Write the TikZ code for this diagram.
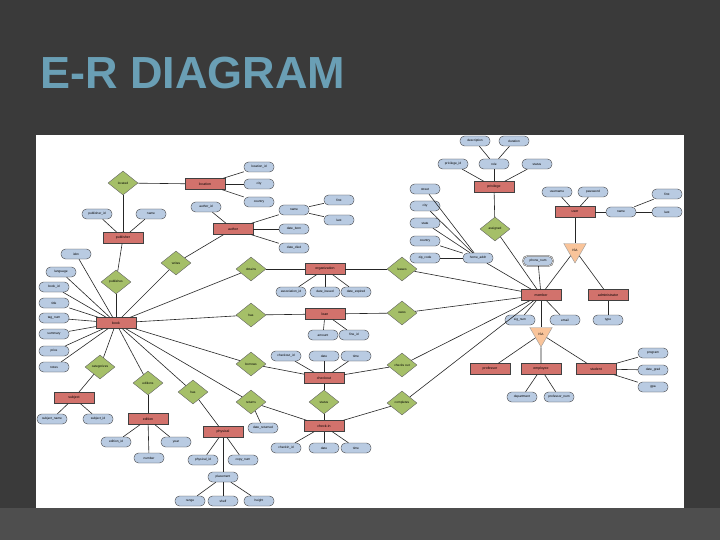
\documentclass[tikz,border=0pt]{standalone}
\usepackage{fontspec}
\setmainfont{Liberation Sans}
\usetikzlibrary{shapes.geometric}
\definecolor{bg}{HTML}{3A3A3A}
\definecolor{entf}{HTML}{D2726C}
\definecolor{attf}{HTML}{B9CBE2}
\definecolor{relf}{HTML}{A5BF68}
\definecolor{isaf}{HTML}{F9C49A}
\definecolor{ttl}{HTML}{6A9FB5}
\tikzset{
 ent/.style={draw=black!75,fill=entf,minimum width=40pt,minimum height=11pt,inner sep=0pt,font=\fontsize{3.5}{4}\selectfont},
 att/.style={draw=black!75,fill=attf,rounded corners=4.5pt,minimum width=30pt,minimum height=10pt,inner sep=0pt,font=\fontsize{3.2}{4}\selectfont},
 rel/.style={draw=black!60,fill=relf,diamond,aspect=1.25,minimum width=30pt,minimum height=24pt,inner sep=0pt,font=\fontsize{3.2}{4}\selectfont},
 isa/.style={draw=black!40,fill=isaf,regular polygon,regular polygon sides=3,shape border rotate=180,minimum size=26pt,inner sep=0pt,font=\fontsize{3.2}{4}\selectfont},
 ln/.style={draw=black!85,line width=0.6pt},
}
\begin{document}
\begin{tikzpicture}[x=1pt,y=-1pt]
\fill[bg] (0,0) rectangle (720,540);
\fill[bg!90!white] (0,508) rectangle (720,540);
\fill[white] (36,135) rectangle (684,508);
\node[anchor=west,text=ttl,inner sep=0pt,font=\fontsize{45}{48}\bfseries\selectfont] (title) at (40,73) {E-R DIAGRAM};
% entities
\node[ent] (location) at (205,184) {location};
\node[ent] (publisher) at (123,238) {publisher};
\node[ent] (author) at (233,229) {author};
\node[ent] (book) at (116,323) {book};
\node[ent] (org) at (325,269) {organization};
\node[ent] (loan) at (325,314) {loan};
\node[ent] (subject) at (74,398) {subject};
\node[ent] (edition) at (148,419) {edition};
\node[ent] (physical) at (223,432) {physical};
\node[ent] (checkout) at (324,378) {checkout};
\node[ent] (checkin) at (324,426) {check-in};
\node[ent] (privilege) at (494,187) {privilege};
\node[ent] (member) at (541,295) {member};
\node[ent] (user) at (575,212) {user};
\node[ent] (admin) at (608,295) {administrator};
\node[ent] (prof) at (490,369) {professor};
\node[ent] (emp) at (541,369) {employee};
\node[ent] (student) at (596,369) {student};
% relationships
\node[rel] (rloc) at (123,183) {located};
\node[rel] (rpub) at (116,282) {publishes};
\node[rel] (rwri) at (176,263) {writes};
\node[rel] (robt) at (251,269) {obtains};
\node[rel] (rhas) at (251,315) {has};
\node[rel] (rcat) at (100,367) {categorizes};
\node[rel] (redi) at (148,383) {editions};
\node[rel] (rcop) at (193,392) {has};
\node[rel] (rbor) at (251,364) {borrows};
\node[rel] (rret) at (251,402) {returns};
\node[rel] (rsta) at (324,402) {status};
\node[rel] (rlea) at (402,269) {leases};
\node[rel] (rowe) at (402,313) {owes};
\node[rel] (rche) at (402,365) {checks out};
\node[rel] (rcom) at (402,403) {completes};
\node[rel] (rpri) at (495,229) {assigned};
\node[isa] (isa1) at (575,250) {ISA};
\node[isa] (isa2) at (541,334) {ISA};
% attributes
\node[att] (a1) at (259,167) {location\_id};
\node[att] (a2) at (259,184) {city};
\node[att] (a3) at (259,202) {country};
\node[att] (a4) at (97,214) {publisher\_id};
\node[att] (a5) at (151,214) {name};
\node[att] (a6) at (206,207) {author\_id};
\node[att] (a7) at (294,210) {name};
\node[att] (a8) at (339,200) {first};
\node[att] (a9) at (339,220) {last};
\node[att] (a10) at (294,229) {date\_born};
\node[att] (a11) at (294,248) {date\_died};
\node[att] (b1) at (76,254) {isbn};
\node[att] (b2) at (61,272) {language};
\node[att] (b3) at (54,287) {book\_id};
\node[att] (b4) at (54,303) {title};
\node[att] (b5) at (54,318) {tag\_num};
\node[att] (b6) at (54,334) {summary};
\node[att] (b7) at (54,351) {price};
\node[att] (b8) at (54,367) {notes};
\node[att] (o1) at (291,292) {association\_id};
\node[att] (o2) at (325,292) {date\_issued};
\node[att] (o3) at (356,292) {date\_expired};
\node[att] (l1) at (323,335) {amount};
\node[att] (l2) at (354,335) {fine\_id};
\node[att] (s1) at (52,419) {subject\_name};
\node[att] (s2) at (98,419) {subject\_id};
\node[att] (e1) at (116,442) {edition\_id};
\node[att] (e2) at (176,442) {year};
\node[att] (e3) at (149,458) {number};
\node[att] (p1) at (203,460) {physical\_id};
\node[att] (p2) at (243,460) {copy\_num};
\node[att] (p3) at (223,477) {placement};
\node[att] (p4) at (190,501) {range};
\node[att] (p5) at (223,501) {shelf};
\node[att] (p6) at (259,501) {height};
\node[att] (c1) at (286,356) {checkout\_id};
\node[att] (c2) at (324,356) {date};
\node[att] (c3) at (356,356) {time};
\node[att] (rd) at (263,428) {date\_returned};
\node[att] (d1) at (286,448) {checkin\_id};
\node[att] (d2) at (324,448) {date};
\node[att] (d3) at (356,448) {time};
\node[att] (v1) at (453,164) {privilege\_id};
\node[att] (v2) at (494,164) {role};
\node[att] (v3) at (537,164) {status};
\node[att] (v4) at (475,141) {description};
\node[att] (v5) at (514,141) {duration};
\node[att] (m1) at (425,189) {street};
\node[att] (m2) at (425,206) {city};
\node[att] (m3) at (425,223) {state};
\node[att] (m4) at (425,241) {country};
\node[att] (m5) at (425,258) {zip\_code};
\node[att] (maddr) at (478,258) {home\_addr};
\node[att,double] (mph) at (538,261) {phone\_num};
\node[att] (m6) at (520,320) {sig\_num};
\node[att] (m7) at (565,320) {email};
\node[att] (u1) at (557,192) {username};
\node[att] (u2) at (593,192) {password};
\node[att] (u3) at (621,212) {name};
\node[att] (u4) at (667,194) {first};
\node[att] (u5) at (667,212) {last};
\node[att] (ad1) at (608,320) {type};
\node[att] (st1) at (653,353) {program};
\node[att] (st2) at (653,370) {date\_grad};
\node[att] (st3) at (653,387) {gpa};
\node[att] (em1) at (522,397) {department};
\node[att] (em2) at (559,397) {professor\_num};
% connectors
\foreach \a/\b in {location/a1,location/a2,location/a3,publisher/a4,publisher/a5,author/a6,author/a7,a7/a8,a7/a9,author/a10,author/a11,
 rloc/location,rloc/publisher,publisher/rpub,rpub/book,book/rwri,rwri/author,book/robt,robt/org,book/rhas,rhas/loan,
 book/b1,book/b2,book/b3,book/b4,book/b5,book/b6,book/b7,book/b8,org/o1,org/o2,org/o3,loan/l1,loan/l2,
 book/rcat,rcat/subject,subject/s1,subject/s2,book/redi,redi/edition,edition/e1,edition/e2,edition/e3,
 book/rcop,rcop/physical,physical/p1,physical/p2,physical/p3,p3/p4,p3/p5,p3/p6,
 book/rbor,rbor/checkout,book/rret,rret/checkin,rret/rd,checkout/rsta,rsta/checkin,checkout/c1,checkout/c2,checkout/c3,checkin/d1,checkin/d2,checkin/d3,
 org/rlea,rlea/member,loan/rowe,rowe/member,checkout/rche,rche/member,checkin/rcom,rcom/member,
 privilege/v1,privilege/v2,privilege/v3,v2/v4,v2/v5,privilege/rpri,rpri/member,
 maddr/m1,maddr/m2,maddr/m3,maddr/m4,maddr/m5,maddr/member,member/mph,member/m6,member/m7,
 user/u1,user/u2,user/u3,u3/u4,u3/u5,user/isa1,isa1/member,isa1/admin,admin/ad1,
 member/isa2,isa2/prof,isa2/emp,isa2/student,student/st1,student/st2,student/st3,emp/em1,emp/em2}
 {\path[ln] (\a) -- (\b);}
\end{tikzpicture}
\end{document}
